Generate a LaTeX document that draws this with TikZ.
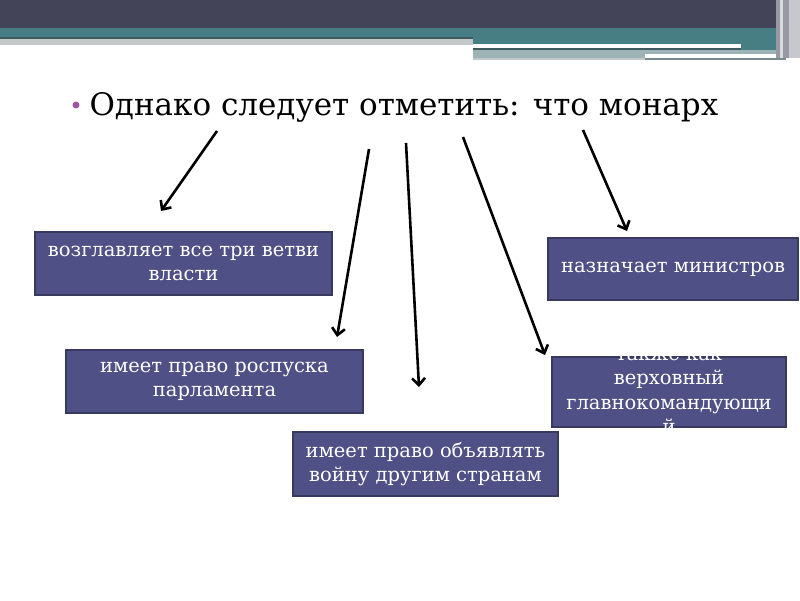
\documentclass[tikz,border=0pt]{standalone}
\usepackage{fontspec}
\setmainfont{DejaVu Serif}
\usepackage{xcolor}
\usepackage{tikz}
\usetikzlibrary{positioning,arrows.meta}
\definecolor{band}{HTML}{434457}
\definecolor{bandteal}{HTML}{467E83}
\definecolor{bandline}{HTML}{3E5A5E}
\definecolor{bandgrey}{HTML}{C3C8C9}
\definecolor{bandmist}{HTML}{9DB3B5}
\definecolor{bullet}{HTML}{A055A5}
\definecolor{boxfill}{HTML}{4F5085}
\definecolor{boxline}{HTML}{38395E}
\tikzset{
    box/.style={rectangle, draw=boxline, fill=boxfill, line width=1.2pt, text=white, align=center, inner sep=0pt, font=\fontsize{19.5}{24.5}\selectfont},
    boxtext/.style={text=white, align=center, inner sep=0pt, font=\fontsize{19.5}{24.5}\selectfont},
    pointer/.style={-{Straight Barb[length=7pt,width=13pt]}, line width=2.6pt, black}
}

\begin{document}
\begin{tikzpicture}[x=1pt, y=-1pt]
\useasboundingbox (0,0) rectangle (800,600);

% slide header bands
\fill[band] (0,0) rectangle (800,28);
\fill[bandteal] (0,28) rectangle (473,37);
\fill[bandline] (0,37) rectangle (473,38.5);
\fill[bandgrey] (0,38.5) rectangle (473,45);
\fill[bandteal] (473,28) rectangle (786,50);
\fill[white] (473,44) rectangle (741,48);
\fill[bandline] (473,48) rectangle (741,50);
\fill[bandmist] (473,50) rectangle (786,58);
\fill[white] (645,53.5) rectangle (786,58);
\fill[bandgrey] (473,58) rectangle (645,60);
\fill[bandline!70] (645,58) rectangle (786,59.5);
\fill[white!45!band] (776,0) rectangle (800,58);
\fill[white!80!band] (780,0) rectangle (783,58);
\fill[white!70!band] (789,0) rectangle (800,58);

% title
\node[circle, fill=bullet, inner sep=0pt, minimum size=7pt] (dot) at (76,105) {};
\node[anchor=base west, font=\fontsize{31}{36}\selectfont] (title) at (86,115) {Однако следует отметить: что монарх};

% boxes
\node[box, minimum width=297pt, minimum height=63pt] (heads) at (183.5,263.5) {возглавляет все три ветви\\власти};
\node[box, minimum width=250pt, minimum height=62pt] (appoints) at (673,269) {назначает министров};
\node[box, minimum width=297pt, minimum height=63pt] (dissolve) at (214.5,381.5) {имеет право роспуска\\парламента};
\node[box, minimum width=265pt, minimum height=64pt] (war) at (425.5,464) {имеет право объявлять\\войну другим странам};
\node[box, minimum width=234pt, minimum height=70pt] (chief) at (669,392) {};
\node[boxtext] (chieftext) at (chief) {также как\\верховный\\главнокомандующи\\й};

% arrows from the title
\coordinate (s1) at (217,131);
\coordinate (e1) at (161,211);
\coordinate (s2) at (369,149);
\coordinate (e2) at (337,337);
\coordinate (s3) at (406,143);
\coordinate (e3) at (419,387);
\coordinate (s4) at (463,137);
\coordinate (e4) at (545,355);
\coordinate (s5) at (583,130);
\coordinate (e5) at (627,231);
\draw[pointer] (s1) -- (e1);
\draw[pointer] (s2) -- (e2);
\draw[pointer] (s3) -- (e3);
\draw[pointer] (s4) -- (e4);
\draw[pointer] (s5) -- (e5);

\end{tikzpicture}
\end{document}
